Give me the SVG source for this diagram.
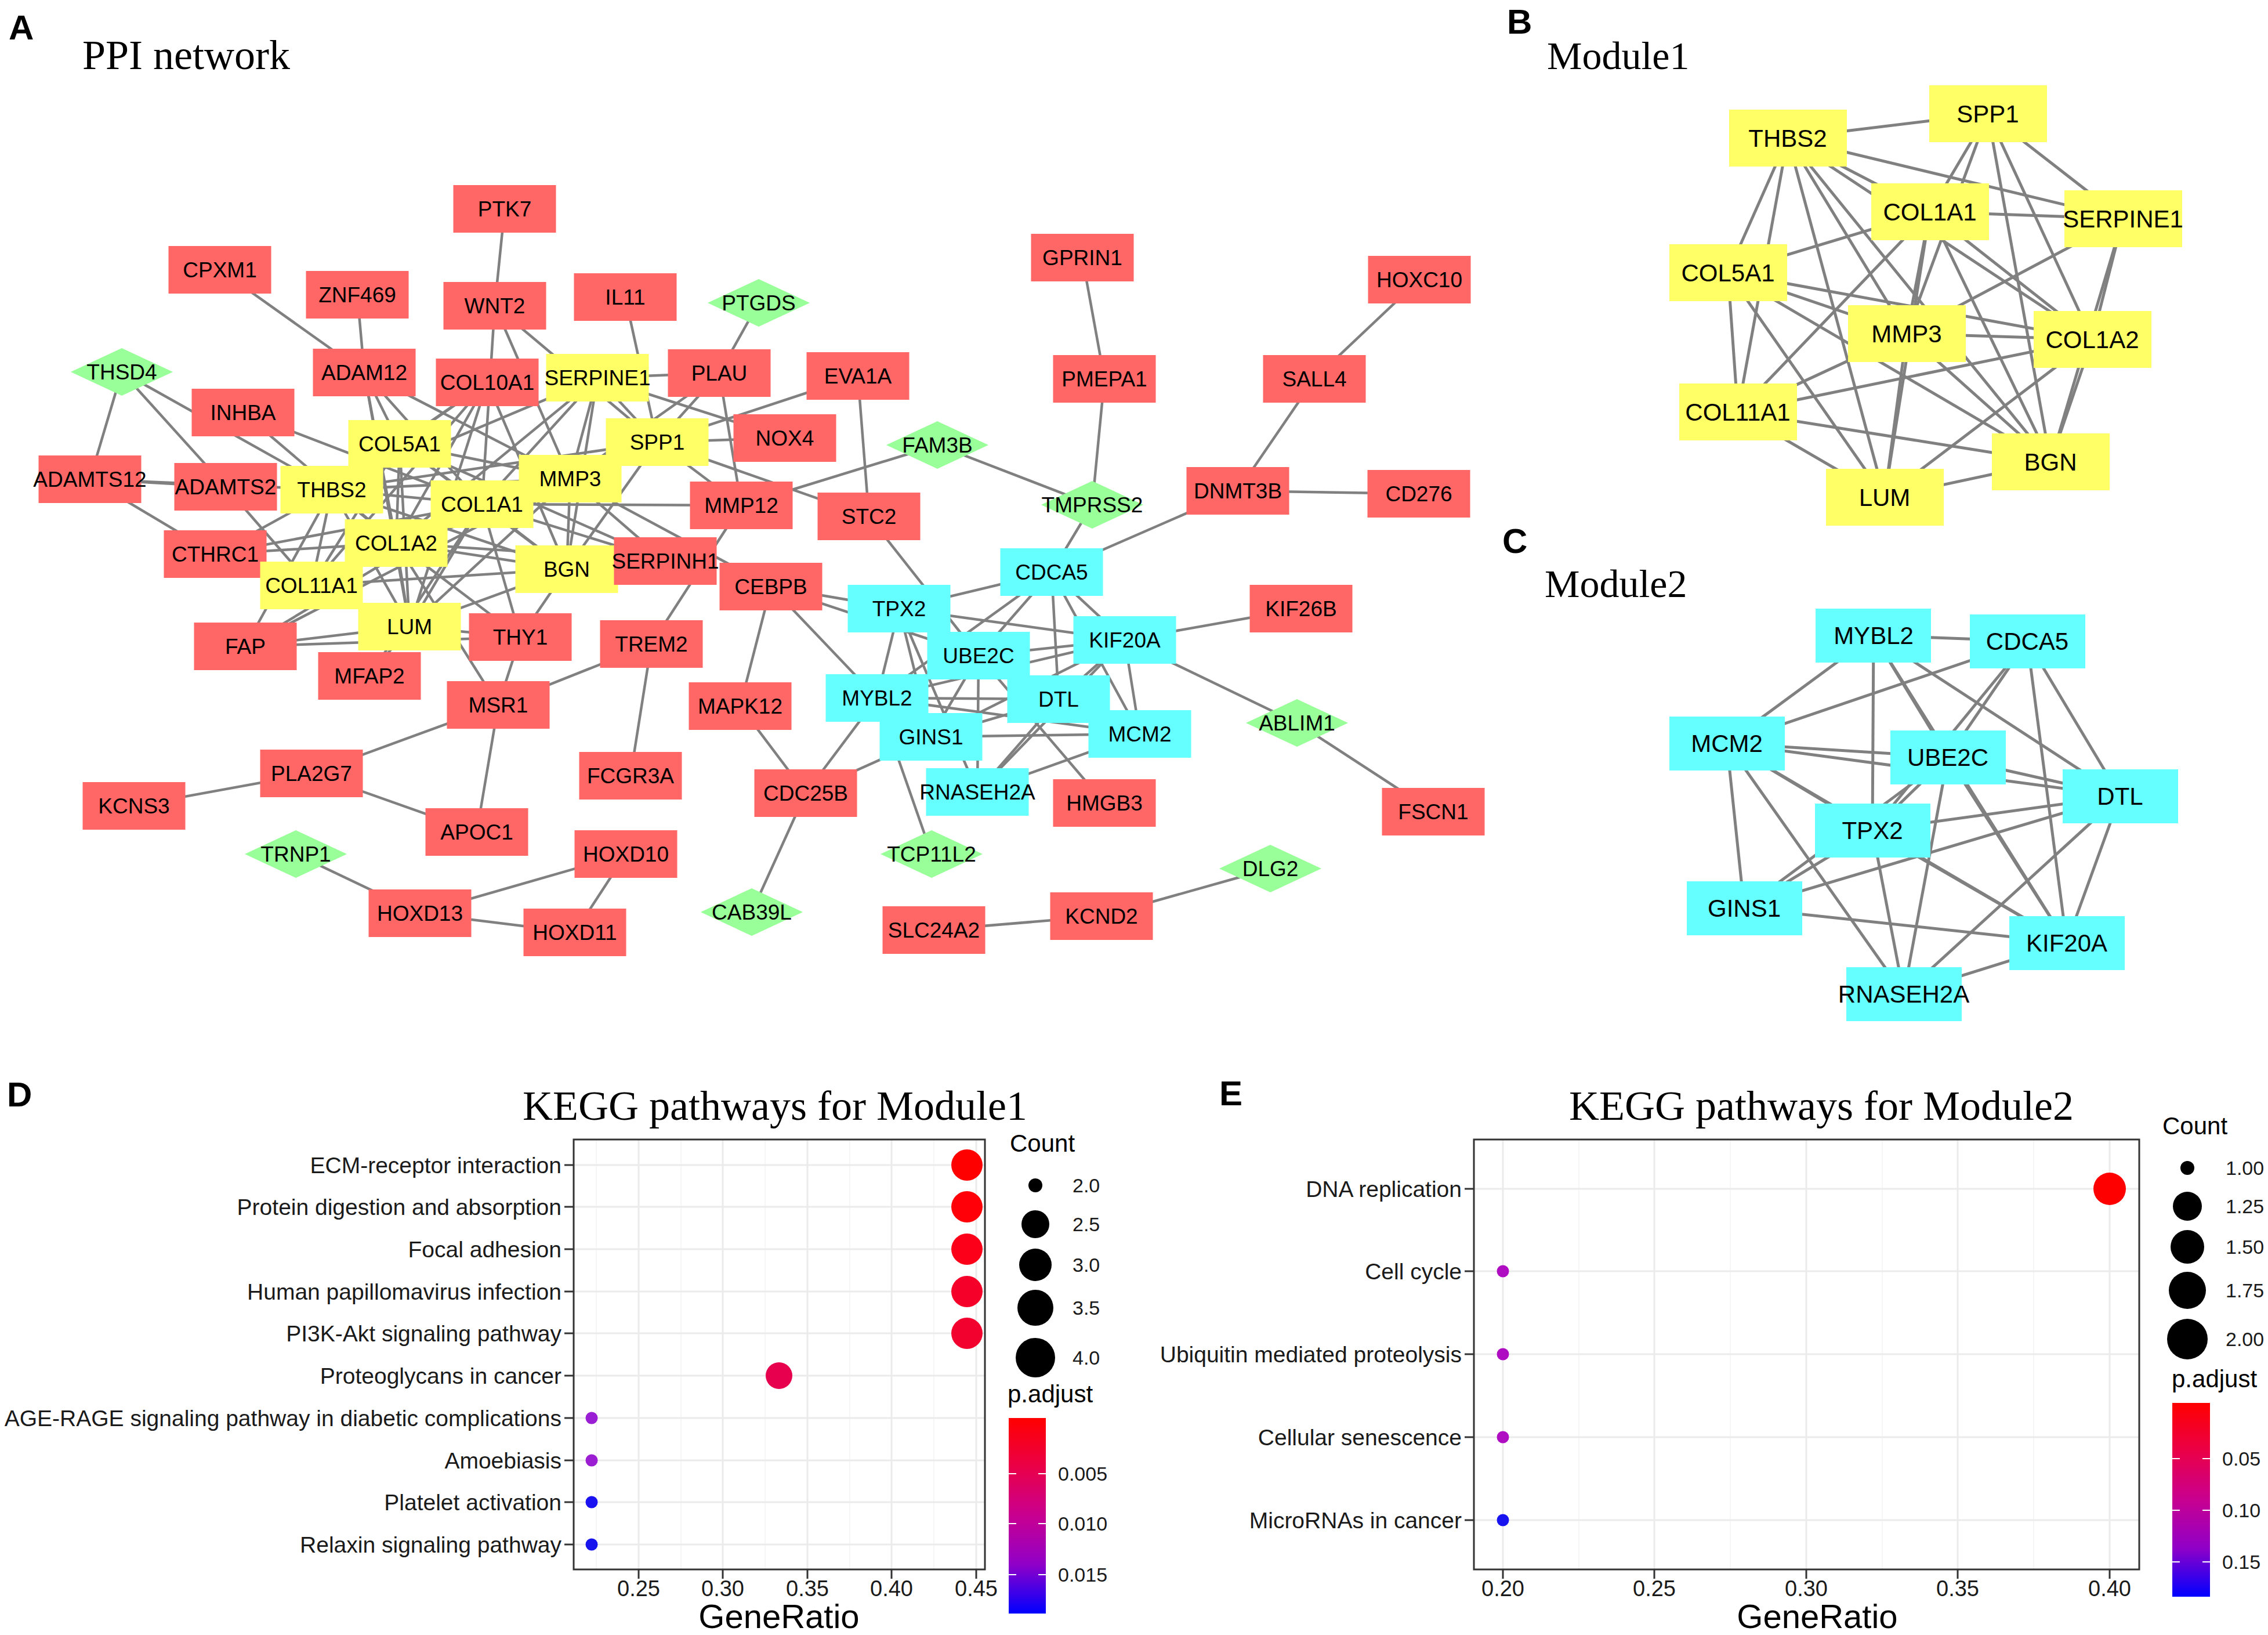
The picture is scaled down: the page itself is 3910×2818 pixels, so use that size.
<svg xmlns="http://www.w3.org/2000/svg" width="3910" height="2818" viewBox="0 0 3910 2818">
<defs>
<style>
.e{stroke:#808080;stroke-width:4.5;fill:none}
.em{stroke:#808080;stroke-width:5;fill:none}
.r{fill:#FF6666}.y{fill:#FFFF66}.c{fill:#66FFFF}.g{fill:#99FF99}
.t{font-family:"Liberation Sans",Arial,sans-serif;font-size:37px;text-anchor:middle;fill:#000}
.tm{font-family:"Liberation Sans",Arial,sans-serif;font-size:42px;text-anchor:middle;fill:#000}
.pl{font-family:"Liberation Sans",Arial,sans-serif;font-size:60px;font-weight:bold;fill:#000}
.ti{font-family:"Liberation Serif","Times New Roman",serif;fill:#000}
.ax{font-family:"Liberation Sans",Arial,sans-serif;font-size:39px;text-anchor:end;fill:#1a1a1a}
.tk{font-family:"Liberation Sans",Arial,sans-serif;font-size:38px;text-anchor:middle;fill:#1a1a1a}
.lt{font-family:"Liberation Sans",Arial,sans-serif;font-size:42px;fill:#000}
.ll{font-family:"Liberation Sans",Arial,sans-serif;font-size:34px;fill:#1a1a1a}
.gM{stroke:#EBEBEB;stroke-width:3}
.gm{stroke:#F3F3F3;stroke-width:1.5}
.tick{stroke:#333;stroke-width:3}
.wt{stroke:#fff;stroke-width:2}
</style>
<linearGradient id="pg" x1="0" y1="0" x2="0" y2="1">
<stop offset="0" stop-color="#FF0000"/>
<stop offset="0.25" stop-color="#EA0048"/>
<stop offset="0.5" stop-color="#C80090"/>
<stop offset="0.75" stop-color="#9000C8"/>
<stop offset="1" stop-color="#0000FF"/>
</linearGradient>
</defs>
<rect width="3910" height="2818" fill="#fff"/>

<text class="pl" x="15" y="68">A</text>
<text class="pl" x="2598" y="58">B</text>
<text class="pl" x="2590" y="953">C</text>
<text class="pl" x="12" y="1907">D</text>
<text class="pl" x="2102" y="1905">E</text>
<text class="ti" x="142" y="119" font-size="72">PPI network</text>
<text class="ti" x="2667" y="119" font-size="68">Module1</text>
<text class="ti" x="2663" y="1029" font-size="68">Module2</text>

<g id="ppi-edges">
<line class="e" x1="572" y1="844" x2="1133" y2="762"/>
<line class="e" x1="572" y1="844" x2="1030" y2="651"/>
<line class="e" x1="572" y1="844" x2="831" y2="869"/>
<line class="e" x1="572" y1="844" x2="689" y2="765"/>
<line class="e" x1="572" y1="844" x2="537" y2="1009"/>
<line class="e" x1="572" y1="844" x2="706" y2="1080"/>
<line class="e" x1="572" y1="844" x2="983" y2="825"/>
<line class="e" x1="572" y1="844" x2="977" y2="981"/>
<line class="e" x1="572" y1="844" x2="683" y2="936"/>
<line class="e" x1="1133" y1="762" x2="831" y2="869"/>
<line class="e" x1="1133" y1="762" x2="983" y2="825"/>
<line class="e" x1="1133" y1="762" x2="977" y2="981"/>
<line class="e" x1="1133" y1="762" x2="683" y2="936"/>
<line class="e" x1="1133" y1="762" x2="1030" y2="651"/>
<line class="e" x1="831" y1="869" x2="1030" y2="651"/>
<line class="e" x1="831" y1="869" x2="689" y2="765"/>
<line class="e" x1="831" y1="869" x2="537" y2="1009"/>
<line class="e" x1="831" y1="869" x2="983" y2="825"/>
<line class="e" x1="831" y1="869" x2="706" y2="1080"/>
<line class="e" x1="831" y1="869" x2="977" y2="981"/>
<line class="e" x1="831" y1="869" x2="683" y2="936"/>
<line class="e" x1="1030" y1="651" x2="983" y2="825"/>
<line class="e" x1="1030" y1="651" x2="683" y2="936"/>
<line class="e" x1="1030" y1="651" x2="977" y2="981"/>
<line class="e" x1="689" y1="765" x2="683" y2="936"/>
<line class="e" x1="689" y1="765" x2="983" y2="825"/>
<line class="e" x1="689" y1="765" x2="977" y2="981"/>
<line class="e" x1="689" y1="765" x2="537" y2="1009"/>
<line class="e" x1="689" y1="765" x2="706" y2="1080"/>
<line class="e" x1="983" y1="825" x2="683" y2="936"/>
<line class="e" x1="983" y1="825" x2="537" y2="1009"/>
<line class="e" x1="983" y1="825" x2="706" y2="1080"/>
<line class="e" x1="983" y1="825" x2="977" y2="981"/>
<line class="e" x1="683" y1="936" x2="537" y2="1009"/>
<line class="e" x1="683" y1="936" x2="706" y2="1080"/>
<line class="e" x1="683" y1="936" x2="977" y2="981"/>
<line class="e" x1="537" y1="1009" x2="977" y2="981"/>
<line class="e" x1="537" y1="1009" x2="706" y2="1080"/>
<line class="e" x1="977" y1="981" x2="706" y2="1080"/>
<line class="e" x1="1512" y1="1203" x2="1813" y2="986"/>
<line class="e" x1="1512" y1="1203" x2="1965" y2="1265"/>
<line class="e" x1="1512" y1="1203" x2="1550" y2="1049"/>
<line class="e" x1="1512" y1="1203" x2="1687" y2="1130"/>
<line class="e" x1="1512" y1="1203" x2="1825" y2="1205"/>
<line class="e" x1="1512" y1="1203" x2="1939" y2="1103"/>
<line class="e" x1="1813" y1="986" x2="1965" y2="1265"/>
<line class="e" x1="1813" y1="986" x2="1687" y2="1130"/>
<line class="e" x1="1813" y1="986" x2="1550" y2="1049"/>
<line class="e" x1="1813" y1="986" x2="1825" y2="1205"/>
<line class="e" x1="1813" y1="986" x2="1939" y2="1103"/>
<line class="e" x1="1965" y1="1265" x2="1687" y2="1130"/>
<line class="e" x1="1965" y1="1265" x2="1825" y2="1205"/>
<line class="e" x1="1965" y1="1265" x2="1550" y2="1049"/>
<line class="e" x1="1965" y1="1265" x2="1605" y2="1270"/>
<line class="e" x1="1965" y1="1265" x2="1685" y2="1365"/>
<line class="e" x1="1965" y1="1265" x2="1939" y2="1103"/>
<line class="e" x1="1687" y1="1130" x2="1825" y2="1205"/>
<line class="e" x1="1687" y1="1130" x2="1550" y2="1049"/>
<line class="e" x1="1687" y1="1130" x2="1939" y2="1103"/>
<line class="e" x1="1687" y1="1130" x2="1685" y2="1365"/>
<line class="e" x1="1687" y1="1130" x2="1605" y2="1270"/>
<line class="e" x1="1825" y1="1205" x2="1550" y2="1049"/>
<line class="e" x1="1825" y1="1205" x2="1605" y2="1270"/>
<line class="e" x1="1825" y1="1205" x2="1685" y2="1365"/>
<line class="e" x1="1825" y1="1205" x2="1939" y2="1103"/>
<line class="e" x1="1550" y1="1049" x2="1685" y2="1365"/>
<line class="e" x1="1550" y1="1049" x2="1939" y2="1103"/>
<line class="e" x1="1550" y1="1049" x2="1605" y2="1270"/>
<line class="e" x1="1605" y1="1270" x2="1939" y2="1103"/>
<line class="e" x1="1939" y1="1103" x2="1685" y2="1365"/>
<line class="e" x1="870" y1="360" x2="853" y2="527"/>
<line class="e" x1="379" y1="465" x2="628" y2="642"/>
<line class="e" x1="616" y1="508" x2="628" y2="642"/>
<line class="e" x1="210" y1="641" x2="155" y2="826"/>
<line class="e" x1="210" y1="641" x2="389" y2="839"/>
<line class="e" x1="210" y1="641" x2="572" y2="844"/>
<line class="e" x1="155" y1="826" x2="389" y2="839"/>
<line class="e" x1="155" y1="826" x2="572" y2="844"/>
<line class="e" x1="155" y1="826" x2="371" y2="955"/>
<line class="e" x1="419" y1="711" x2="683" y2="936"/>
<line class="e" x1="419" y1="711" x2="831" y2="869"/>
<line class="e" x1="389" y1="839" x2="537" y2="1009"/>
<line class="e" x1="628" y1="642" x2="689" y2="765"/>
<line class="e" x1="628" y1="642" x2="683" y2="936"/>
<line class="e" x1="628" y1="642" x2="706" y2="1080"/>
<line class="e" x1="628" y1="642" x2="831" y2="869"/>
<line class="e" x1="628" y1="642" x2="983" y2="825"/>
<line class="e" x1="853" y1="527" x2="831" y2="869"/>
<line class="e" x1="853" y1="527" x2="983" y2="825"/>
<line class="e" x1="853" y1="527" x2="1133" y2="762"/>
<line class="e" x1="1078" y1="512" x2="1133" y2="762"/>
<line class="e" x1="1308" y1="522" x2="1240" y2="643"/>
<line class="e" x1="1240" y1="643" x2="1030" y2="651"/>
<line class="e" x1="1240" y1="643" x2="1133" y2="762"/>
<line class="e" x1="1240" y1="643" x2="983" y2="825"/>
<line class="e" x1="1240" y1="643" x2="1278" y2="871"/>
<line class="e" x1="1030" y1="651" x2="1353" y2="755"/>
<line class="e" x1="1479" y1="648" x2="1133" y2="762"/>
<line class="e" x1="1479" y1="648" x2="1498" y2="890"/>
<line class="e" x1="1616" y1="767" x2="1278" y2="871"/>
<line class="e" x1="1616" y1="767" x2="1883" y2="870"/>
<line class="e" x1="1133" y1="762" x2="1353" y2="755"/>
<line class="e" x1="1133" y1="762" x2="1278" y2="871"/>
<line class="e" x1="1133" y1="762" x2="1498" y2="890"/>
<line class="e" x1="831" y1="869" x2="1278" y2="871"/>
<line class="e" x1="1866" y1="444" x2="1904" y2="653"/>
<line class="e" x1="1904" y1="653" x2="1883" y2="870"/>
<line class="e" x1="1883" y1="870" x2="1813" y2="986"/>
<line class="e" x1="2447" y1="482" x2="2266" y2="653"/>
<line class="e" x1="2266" y1="653" x2="2134" y2="846"/>
<line class="e" x1="2134" y1="846" x2="2446" y2="851"/>
<line class="e" x1="2134" y1="846" x2="1813" y2="986"/>
<line class="e" x1="1498" y1="890" x2="1687" y2="1130"/>
<line class="e" x1="1329" y1="1011" x2="1550" y2="1049"/>
<line class="e" x1="1329" y1="1011" x2="1687" y2="1130"/>
<line class="e" x1="1329" y1="1011" x2="1276" y2="1217"/>
<line class="e" x1="1329" y1="1011" x2="1512" y2="1203"/>
<line class="e" x1="983" y1="825" x2="1329" y2="1011"/>
<line class="e" x1="1278" y1="871" x2="1123" y2="1110"/>
<line class="e" x1="1123" y1="1110" x2="859" y2="1215"/>
<line class="e" x1="1123" y1="1110" x2="1087" y2="1337"/>
<line class="e" x1="1276" y1="1217" x2="1389" y2="1367"/>
<line class="e" x1="1389" y1="1367" x2="1512" y2="1203"/>
<line class="e" x1="1389" y1="1367" x2="1605" y2="1270"/>
<line class="e" x1="1389" y1="1367" x2="1296" y2="1572"/>
<line class="e" x1="1512" y1="1203" x2="1606" y2="1472"/>
<line class="e" x1="1079" y1="1472" x2="724" y2="1574"/>
<line class="e" x1="1079" y1="1472" x2="991" y2="1607"/>
<line class="e" x1="724" y1="1574" x2="991" y2="1607"/>
<line class="e" x1="510" y1="1472" x2="724" y2="1574"/>
<line class="e" x1="1610" y1="1603" x2="1899" y2="1579"/>
<line class="e" x1="1899" y1="1579" x2="2190" y2="1497"/>
<line class="e" x1="1939" y1="1103" x2="2243" y2="1049"/>
<line class="e" x1="1939" y1="1103" x2="2236" y2="1246"/>
<line class="e" x1="2236" y1="1246" x2="2471" y2="1399"/>
<line class="e" x1="1687" y1="1130" x2="1904" y2="1384"/>
<line class="e" x1="897" y1="1098" x2="683" y2="936"/>
<line class="e" x1="897" y1="1098" x2="831" y2="869"/>
<line class="e" x1="897" y1="1098" x2="977" y2="981"/>
<line class="e" x1="897" y1="1098" x2="706" y2="1080"/>
<line class="e" x1="897" y1="1098" x2="859" y2="1215"/>
<line class="e" x1="683" y1="936" x2="859" y2="1215"/>
<line class="e" x1="859" y1="1215" x2="537" y2="1333"/>
<line class="e" x1="859" y1="1215" x2="822" y2="1434"/>
<line class="e" x1="537" y1="1333" x2="822" y2="1434"/>
<line class="e" x1="537" y1="1333" x2="231" y2="1389"/>
<line class="e" x1="423" y1="1114" x2="572" y2="844"/>
<line class="e" x1="423" y1="1114" x2="983" y2="825"/>
<line class="e" x1="423" y1="1114" x2="831" y2="869"/>
<line class="e" x1="423" y1="1114" x2="706" y2="1080"/>
<line class="e" x1="423" y1="1114" x2="897" y2="1098"/>
<line class="e" x1="637" y1="1165" x2="706" y2="1080"/>
<line class="e" x1="637" y1="1165" x2="831" y2="869"/>
<line class="e" x1="371" y1="955" x2="831" y2="869"/>
<line class="e" x1="371" y1="955" x2="683" y2="936"/>
<line class="e" x1="572" y1="844" x2="371" y2="955"/>
<line class="e" x1="840" y1="659" x2="689" y2="765"/>
<line class="e" x1="840" y1="659" x2="537" y2="1009"/>
<line class="e" x1="840" y1="659" x2="683" y2="936"/>
<line class="e" x1="840" y1="659" x2="572" y2="844"/>
<line class="e" x1="840" y1="659" x2="977" y2="981"/>
<line class="e" x1="840" y1="659" x2="706" y2="1080"/>
<line class="e" x1="1147" y1="967" x2="831" y2="869"/>
<line class="e" x1="1147" y1="967" x2="683" y2="936"/>
<line class="e" x1="1147" y1="967" x2="689" y2="765"/>
<line class="e" x1="1147" y1="967" x2="983" y2="825"/>
</g>

<g id="ppi-nodes">
<g id="n-PTK7"><rect class="r" x="781.5" y="319" width="177" height="82"/><text class="t" x="870" y="373">PTK7</text></g>
<g id="n-CPXM1"><rect class="r" x="290.5" y="424" width="177" height="82"/><text class="t" x="379" y="478">CPXM1</text></g>
<g id="n-ZNF469"><rect class="r" x="527.5" y="467" width="177" height="82"/><text class="t" x="616" y="521">ZNF469</text></g>
<g id="n-WNT2"><rect class="r" x="764.5" y="486" width="177" height="82"/><text class="t" x="853" y="540">WNT2</text></g>
<g id="n-IL11"><rect class="r" x="989.5" y="471" width="177" height="82"/><text class="t" x="1078" y="525">IL11</text></g>
<g id="n-GPRIN1"><rect class="r" x="1777.5" y="403" width="177" height="82"/><text class="t" x="1866" y="457">GPRIN1</text></g>
<g id="n-HOXC10"><rect class="r" x="2358.5" y="441" width="177" height="82"/><text class="t" x="2447" y="495">HOXC10</text></g>
<g id="n-ADAM12"><rect class="r" x="539.5" y="601" width="177" height="82"/><text class="t" x="628" y="655">ADAM12</text></g>
<g id="n-COL10A1"><rect class="r" x="751.5" y="618" width="177" height="82"/><text class="t" x="840" y="672">COL10A1</text></g>
<g id="n-PLAU"><rect class="r" x="1151.5" y="602" width="177" height="82"/><text class="t" x="1240" y="656">PLAU</text></g>
<g id="n-EVA1A"><rect class="r" x="1390.5" y="607" width="177" height="82"/><text class="t" x="1479" y="661">EVA1A</text></g>
<g id="n-PMEPA1"><rect class="r" x="1815.5" y="612" width="177" height="82"/><text class="t" x="1904" y="666">PMEPA1</text></g>
<g id="n-SALL4"><rect class="r" x="2177.5" y="612" width="177" height="82"/><text class="t" x="2266" y="666">SALL4</text></g>
<g id="n-INHBA"><rect class="r" x="330.5" y="670" width="177" height="82"/><text class="t" x="419" y="724">INHBA</text></g>
<g id="n-NOX4"><rect class="r" x="1264.5" y="714" width="177" height="82"/><text class="t" x="1353" y="768">NOX4</text></g>
<g id="n-ADAMTS12"><rect class="r" x="66.5" y="785" width="177" height="82"/><text class="t" x="155" y="839">ADAMTS12</text></g>
<g id="n-ADAMTS2"><rect class="r" x="300.5" y="798" width="177" height="82"/><text class="t" x="389" y="852">ADAMTS2</text></g>
<g id="n-MMP12"><rect class="r" x="1189.5" y="830" width="177" height="82"/><text class="t" x="1278" y="884">MMP12</text></g>
<g id="n-STC2"><rect class="r" x="1409.5" y="849" width="177" height="82"/><text class="t" x="1498" y="903">STC2</text></g>
<g id="n-DNMT3B"><rect class="r" x="2045.5" y="805" width="177" height="82"/><text class="t" x="2134" y="859">DNMT3B</text></g>
<g id="n-CD276"><rect class="r" x="2357.5" y="810" width="177" height="82"/><text class="t" x="2446" y="864">CD276</text></g>
<g id="n-CTHRC1"><rect class="r" x="282.5" y="914" width="177" height="82"/><text class="t" x="371" y="968">CTHRC1</text></g>
<g id="n-CEBPB"><rect class="r" x="1240.5" y="970" width="177" height="82"/><text class="t" x="1329" y="1024">CEBPB</text></g>
<g id="n-KIF26B"><rect class="r" x="2154.5" y="1008" width="177" height="82"/><text class="t" x="2243" y="1062">KIF26B</text></g>
<g id="n-FAP"><rect class="r" x="334.5" y="1073" width="177" height="82"/><text class="t" x="423" y="1127">FAP</text></g>
<g id="n-THY1"><rect class="r" x="808.5" y="1057" width="177" height="82"/><text class="t" x="897" y="1111">THY1</text></g>
<g id="n-TREM2"><rect class="r" x="1034.5" y="1069" width="177" height="82"/><text class="t" x="1123" y="1123">TREM2</text></g>
<g id="n-MFAP2"><rect class="r" x="548.5" y="1124" width="177" height="82"/><text class="t" x="637" y="1178">MFAP2</text></g>
<g id="n-MSR1"><rect class="r" x="770.5" y="1174" width="177" height="82"/><text class="t" x="859" y="1228">MSR1</text></g>
<g id="n-MAPK12"><rect class="r" x="1187.5" y="1176" width="177" height="82"/><text class="t" x="1276" y="1230">MAPK12</text></g>
<g id="n-PLA2G7"><rect class="r" x="448.5" y="1292" width="177" height="82"/><text class="t" x="537" y="1346">PLA2G7</text></g>
<g id="n-KCNS3"><rect class="r" x="142.5" y="1348" width="177" height="82"/><text class="t" x="231" y="1402">KCNS3</text></g>
<g id="n-FCGR3A"><rect class="r" x="998.5" y="1296" width="177" height="82"/><text class="t" x="1087" y="1350">FCGR3A</text></g>
<g id="n-CDC25B"><rect class="r" x="1300.5" y="1326" width="177" height="82"/><text class="t" x="1389" y="1380">CDC25B</text></g>
<g id="n-HMGB3"><rect class="r" x="1815.5" y="1343" width="177" height="82"/><text class="t" x="1904" y="1397">HMGB3</text></g>
<g id="n-FSCN1"><rect class="r" x="2382.5" y="1358" width="177" height="82"/><text class="t" x="2471" y="1412">FSCN1</text></g>
<g id="n-APOC1"><rect class="r" x="733.5" y="1393" width="177" height="82"/><text class="t" x="822" y="1447">APOC1</text></g>
<g id="n-HOXD10"><rect class="r" x="990.5" y="1431" width="177" height="82"/><text class="t" x="1079" y="1485">HOXD10</text></g>
<g id="n-HOXD13"><rect class="r" x="635.5" y="1533" width="177" height="82"/><text class="t" x="724" y="1587">HOXD13</text></g>
<g id="n-HOXD11"><rect class="r" x="902.5" y="1566" width="177" height="82"/><text class="t" x="991" y="1620">HOXD11</text></g>
<g id="n-SLC24A2"><rect class="r" x="1521.5" y="1562" width="177" height="82"/><text class="t" x="1610" y="1616">SLC24A2</text></g>
<g id="n-KCND2"><rect class="r" x="1810.5" y="1538" width="177" height="82"/><text class="t" x="1899" y="1592">KCND2</text></g>
<g id="n-COL5A1"><rect class="y" x="600.5" y="724" width="177" height="82"/><text class="t" x="689" y="778">COL5A1</text></g>
<g id="n-THBS2"><rect class="y" x="483.5" y="803" width="177" height="82"/><text class="t" x="572" y="857">THBS2</text></g>
<g id="n-SERPINE1"><rect class="y" x="941.5" y="610" width="177" height="82"/><text class="t" x="1030" y="664">SERPINE1</text></g>
<g id="n-SPP1"><rect class="y" x="1044.5" y="721" width="177" height="82"/><text class="t" x="1133" y="775">SPP1</text></g>
<g id="n-MMP3"><rect class="y" x="894.5" y="784" width="177" height="82"/><text class="t" x="983" y="838">MMP3</text></g>
<g id="n-COL1A1"><rect class="y" x="742.5" y="828" width="177" height="82"/><text class="t" x="831" y="882">COL1A1</text></g>
<g id="n-COL1A2"><rect class="y" x="594.5" y="895" width="177" height="82"/><text class="t" x="683" y="949">COL1A2</text></g>
<g id="n-COL11A1"><rect class="y" x="448.5" y="968" width="177" height="82"/><text class="t" x="537" y="1022">COL11A1</text></g>
<g id="n-BGN"><rect class="y" x="888.5" y="940" width="177" height="82"/><text class="t" x="977" y="994">BGN</text></g>
<g id="n-SERPINH1"><rect class="r" x="1058.5" y="926" width="177" height="82"/><text class="t" x="1147" y="980">SERPINH1</text></g>
<g id="n-LUM"><rect class="y" x="617.5" y="1039" width="177" height="82"/><text class="t" x="706" y="1093">LUM</text></g>
<g id="n-CDCA5"><rect class="c" x="1724.5" y="945" width="177" height="82"/><text class="t" x="1813" y="999">CDCA5</text></g>
<g id="n-TPX2"><rect class="c" x="1461.5" y="1008" width="177" height="82"/><text class="t" x="1550" y="1062">TPX2</text></g>
<g id="n-KIF20A"><rect class="c" x="1850.5" y="1062" width="177" height="82"/><text class="t" x="1939" y="1116">KIF20A</text></g>
<g id="n-UBE2C"><rect class="c" x="1598.5" y="1089" width="177" height="82"/><text class="t" x="1687" y="1143">UBE2C</text></g>
<g id="n-MYBL2"><rect class="c" x="1423.5" y="1162" width="177" height="82"/><text class="t" x="1512" y="1216">MYBL2</text></g>
<g id="n-DTL"><rect class="c" x="1736.5" y="1164" width="177" height="82"/><text class="t" x="1825" y="1218">DTL</text></g>
<g id="n-MCM2"><rect class="c" x="1876.5" y="1224" width="177" height="82"/><text class="t" x="1965" y="1278">MCM2</text></g>
<g id="n-GINS1"><rect class="c" x="1516.5" y="1229" width="177" height="82"/><text class="t" x="1605" y="1283">GINS1</text></g>
<g id="n-RNASEH2A"><rect class="c" x="1596.5" y="1324" width="177" height="82"/><text class="t" x="1685" y="1378">RNASEH2A</text></g>
<g id="n-THSD4"><polygon class="g" points="122,641 210,600 298,641 210,682"/><text class="t" x="210" y="654">THSD4</text></g>
<g id="n-PTGDS"><polygon class="g" points="1220,522 1308,481 1396,522 1308,563"/><text class="t" x="1308" y="535">PTGDS</text></g>
<g id="n-FAM3B"><polygon class="g" points="1528,767 1616,726 1704,767 1616,808"/><text class="t" x="1616" y="780">FAM3B</text></g>
<g id="n-TMPRSS2"><polygon class="g" points="1795,870 1883,829 1971,870 1883,911"/><text class="t" x="1883" y="883">TMPRSS2</text></g>
<g id="n-ABLIM1"><polygon class="g" points="2148,1246 2236,1205 2324,1246 2236,1287"/><text class="t" x="2236" y="1259">ABLIM1</text></g>
<g id="n-TRNP1"><polygon class="g" points="422,1472 510,1431 598,1472 510,1513"/><text class="t" x="510" y="1485">TRNP1</text></g>
<g id="n-TCP11L2"><polygon class="g" points="1518,1472 1606,1431 1694,1472 1606,1513"/><text class="t" x="1606" y="1485">TCP11L2</text></g>
<g id="n-CAB39L"><polygon class="g" points="1208,1572 1296,1531 1384,1572 1296,1613"/><text class="t" x="1296" y="1585">CAB39L</text></g>
<g id="n-DLG2"><polygon class="g" points="2102,1497 2190,1456 2278,1497 2190,1538"/><text class="t" x="2190" y="1510">DLG2</text></g>
</g>

<g id="m1-edges">
<line class="em" x1="3082" y1="238" x2="3427" y2="196"/>
<line class="em" x1="3082" y1="238" x2="3660" y2="377"/>
<line class="em" x1="3082" y1="238" x2="3327" y2="365"/>
<line class="em" x1="3082" y1="238" x2="2979" y2="470"/>
<line class="em" x1="3082" y1="238" x2="2996" y2="710"/>
<line class="em" x1="3082" y1="238" x2="3249" y2="857"/>
<line class="em" x1="3082" y1="238" x2="3287" y2="575"/>
<line class="em" x1="3082" y1="238" x2="3535" y2="796"/>
<line class="em" x1="3082" y1="238" x2="3607" y2="585"/>
<line class="em" x1="3427" y1="196" x2="3327" y2="365"/>
<line class="em" x1="3427" y1="196" x2="3287" y2="575"/>
<line class="em" x1="3427" y1="196" x2="3535" y2="796"/>
<line class="em" x1="3427" y1="196" x2="3607" y2="585"/>
<line class="em" x1="3427" y1="196" x2="3660" y2="377"/>
<line class="em" x1="3327" y1="365" x2="3660" y2="377"/>
<line class="em" x1="3327" y1="365" x2="2979" y2="470"/>
<line class="em" x1="3327" y1="365" x2="2996" y2="710"/>
<line class="em" x1="3327" y1="365" x2="3287" y2="575"/>
<line class="em" x1="3327" y1="365" x2="3249" y2="857"/>
<line class="em" x1="3327" y1="365" x2="3535" y2="796"/>
<line class="em" x1="3327" y1="365" x2="3607" y2="585"/>
<line class="em" x1="3660" y1="377" x2="3287" y2="575"/>
<line class="em" x1="3660" y1="377" x2="3607" y2="585"/>
<line class="em" x1="3660" y1="377" x2="3535" y2="796"/>
<line class="em" x1="2979" y1="470" x2="3607" y2="585"/>
<line class="em" x1="2979" y1="470" x2="3287" y2="575"/>
<line class="em" x1="2979" y1="470" x2="3535" y2="796"/>
<line class="em" x1="2979" y1="470" x2="2996" y2="710"/>
<line class="em" x1="2979" y1="470" x2="3249" y2="857"/>
<line class="em" x1="3287" y1="575" x2="3607" y2="585"/>
<line class="em" x1="3287" y1="575" x2="2996" y2="710"/>
<line class="em" x1="3287" y1="575" x2="3249" y2="857"/>
<line class="em" x1="3287" y1="575" x2="3535" y2="796"/>
<line class="em" x1="3607" y1="585" x2="2996" y2="710"/>
<line class="em" x1="3607" y1="585" x2="3249" y2="857"/>
<line class="em" x1="3607" y1="585" x2="3535" y2="796"/>
<line class="em" x1="2996" y1="710" x2="3535" y2="796"/>
<line class="em" x1="2996" y1="710" x2="3249" y2="857"/>
<line class="em" x1="3535" y1="796" x2="3249" y2="857"/>
</g>
<g id="m1-nodes">
<g id="m1-THBS2"><rect class="y" x="2981" y="189" width="203" height="98"/><text class="tm" x="3082" y="253">THBS2</text></g>
<g id="m1-SPP1"><rect class="y" x="3326" y="147" width="203" height="98"/><text class="tm" x="3427" y="211">SPP1</text></g>
<g id="m1-COL1A1"><rect class="y" x="3226" y="316" width="203" height="98"/><text class="tm" x="3327" y="380">COL1A1</text></g>
<g id="m1-SERPINE1"><rect class="y" x="3559" y="328" width="203" height="98"/><text class="tm" x="3660" y="392">SERPINE1</text></g>
<g id="m1-COL5A1"><rect class="y" x="2878" y="421" width="203" height="98"/><text class="tm" x="2979" y="485">COL5A1</text></g>
<g id="m1-MMP3"><rect class="y" x="3186" y="526" width="203" height="98"/><text class="tm" x="3287" y="590">MMP3</text></g>
<g id="m1-COL1A2"><rect class="y" x="3506" y="536" width="203" height="98"/><text class="tm" x="3607" y="600">COL1A2</text></g>
<g id="m1-COL11A1"><rect class="y" x="2895" y="661" width="203" height="98"/><text class="tm" x="2996" y="725">COL11A1</text></g>
<g id="m1-BGN"><rect class="y" x="3434" y="747" width="203" height="98"/><text class="tm" x="3535" y="811">BGN</text></g>
<g id="m1-LUM"><rect class="y" x="3148" y="808" width="203" height="98"/><text class="tm" x="3249" y="872">LUM</text></g>
</g>

<g id="m2-edges">
<line class="em" x1="3230" y1="1095" x2="3495" y2="1105"/>
<line class="em" x1="3230" y1="1095" x2="2977" y2="1281"/>
<line class="em" x1="3230" y1="1095" x2="3228" y2="1431"/>
<line class="em" x1="3230" y1="1095" x2="3358" y2="1305"/>
<line class="em" x1="3230" y1="1095" x2="3655" y2="1372"/>
<line class="em" x1="3230" y1="1095" x2="3563" y2="1625"/>
<line class="em" x1="3495" y1="1105" x2="2977" y2="1281"/>
<line class="em" x1="3495" y1="1105" x2="3358" y2="1305"/>
<line class="em" x1="3495" y1="1105" x2="3228" y2="1431"/>
<line class="em" x1="3495" y1="1105" x2="3655" y2="1372"/>
<line class="em" x1="3495" y1="1105" x2="3563" y2="1625"/>
<line class="em" x1="2977" y1="1281" x2="3358" y2="1305"/>
<line class="em" x1="2977" y1="1281" x2="3655" y2="1372"/>
<line class="em" x1="2977" y1="1281" x2="3228" y2="1431"/>
<line class="em" x1="2977" y1="1281" x2="3007" y2="1565"/>
<line class="em" x1="2977" y1="1281" x2="3282" y2="1713"/>
<line class="em" x1="2977" y1="1281" x2="3563" y2="1625"/>
<line class="em" x1="3358" y1="1305" x2="3655" y2="1372"/>
<line class="em" x1="3358" y1="1305" x2="3228" y2="1431"/>
<line class="em" x1="3358" y1="1305" x2="3563" y2="1625"/>
<line class="em" x1="3358" y1="1305" x2="3282" y2="1713"/>
<line class="em" x1="3358" y1="1305" x2="3007" y2="1565"/>
<line class="em" x1="3655" y1="1372" x2="3228" y2="1431"/>
<line class="em" x1="3655" y1="1372" x2="3007" y2="1565"/>
<line class="em" x1="3655" y1="1372" x2="3282" y2="1713"/>
<line class="em" x1="3655" y1="1372" x2="3563" y2="1625"/>
<line class="em" x1="3228" y1="1431" x2="3282" y2="1713"/>
<line class="em" x1="3228" y1="1431" x2="3563" y2="1625"/>
<line class="em" x1="3228" y1="1431" x2="3007" y2="1565"/>
<line class="em" x1="3007" y1="1565" x2="3563" y2="1625"/>
<line class="em" x1="3563" y1="1625" x2="3282" y2="1713"/>
</g>
<g id="m2-nodes">
<g id="m2-MYBL2"><rect class="c" x="3130" y="1049" width="199" height="93"/><text class="tm" x="3230" y="1110">MYBL2</text></g>
<g id="m2-CDCA5"><rect class="c" x="3396" y="1059" width="199" height="93"/><text class="tm" x="3495" y="1120">CDCA5</text></g>
<g id="m2-MCM2"><rect class="c" x="2878" y="1235" width="199" height="93"/><text class="tm" x="2977" y="1296">MCM2</text></g>
<g id="m2-UBE2C"><rect class="c" x="3259" y="1259" width="199" height="93"/><text class="tm" x="3358" y="1320">UBE2C</text></g>
<g id="m2-DTL"><rect class="c" x="3556" y="1326" width="199" height="93"/><text class="tm" x="3655" y="1387">DTL</text></g>
<g id="m2-TPX2"><rect class="c" x="3129" y="1385" width="199" height="93"/><text class="tm" x="3228" y="1446">TPX2</text></g>
<g id="m2-GINS1"><rect class="c" x="2908" y="1519" width="199" height="93"/><text class="tm" x="3007" y="1580">GINS1</text></g>
<g id="m2-KIF20A"><rect class="c" x="3464" y="1579" width="199" height="93"/><text class="tm" x="3563" y="1640">KIF20A</text></g>
<g id="m2-RNASEH2A"><rect class="c" x="3183" y="1667" width="199" height="93"/><text class="tm" x="3282" y="1728">RNASEH2A</text></g>
</g>

<g id="kegg1">
<text class="ti" x="1336" y="1930" font-size="72" text-anchor="middle">KEGG pathways for Module1</text>
<rect x="989" y="1964" width="709" height="741" fill="#fff"/>
<g class="gm">
<line x1="1028" y1="1964" x2="1028" y2="2705"/><line x1="1174" y1="1964" x2="1174" y2="2705"/><line x1="1319" y1="1964" x2="1319" y2="2705"/><line x1="1465" y1="1964" x2="1465" y2="2705"/><line x1="1610" y1="1964" x2="1610" y2="2705"/>
</g>
<g class="gM">
<line x1="1101" y1="1964" x2="1101" y2="2705"/><line x1="1246" y1="1964" x2="1246" y2="2705"/><line x1="1392" y1="1964" x2="1392" y2="2705"/><line x1="1537" y1="1964" x2="1537" y2="2705"/><line x1="1683" y1="1964" x2="1683" y2="2705"/>
<line x1="989" y1="2008" x2="1698" y2="2008"/><line x1="989" y1="2080" x2="1698" y2="2080"/><line x1="989" y1="2153" x2="1698" y2="2153"/><line x1="989" y1="2226" x2="1698" y2="2226"/><line x1="989" y1="2298" x2="1698" y2="2298"/><line x1="989" y1="2371" x2="1698" y2="2371"/><line x1="989" y1="2444" x2="1698" y2="2444"/><line x1="989" y1="2517" x2="1698" y2="2517"/><line x1="989" y1="2589" x2="1698" y2="2589"/><line x1="989" y1="2662" x2="1698" y2="2662"/>
</g>
<circle cx="1667" cy="2008" r="27" fill="#FF0000"/>
<circle cx="1667" cy="2080" r="27" fill="#FF0008"/>
<circle cx="1667" cy="2153" r="27" fill="#FB0018"/>
<circle cx="1667" cy="2226" r="27" fill="#F50028"/>
<circle cx="1667" cy="2298" r="27" fill="#F2002E"/>
<circle cx="1343" cy="2371" r="23" fill="#E6004E"/>
<circle cx="1020" cy="2444" r="10.5" fill="#9A1FD4"/>
<circle cx="1020" cy="2517" r="10.5" fill="#9C1ED2"/>
<circle cx="1020" cy="2589" r="10.5" fill="#1A12F0"/>
<circle cx="1020" cy="2662" r="10.5" fill="#1814EE"/>
<rect x="989" y="1964" width="709" height="741" fill="none" stroke="#333" stroke-width="3"/>
<g class="tick">
<line x1="973" y1="2008" x2="989" y2="2008"/><line x1="973" y1="2080" x2="989" y2="2080"/><line x1="973" y1="2153" x2="989" y2="2153"/><line x1="973" y1="2226" x2="989" y2="2226"/><line x1="973" y1="2298" x2="989" y2="2298"/><line x1="973" y1="2371" x2="989" y2="2371"/><line x1="973" y1="2444" x2="989" y2="2444"/><line x1="973" y1="2517" x2="989" y2="2517"/><line x1="973" y1="2589" x2="989" y2="2589"/><line x1="973" y1="2662" x2="989" y2="2662"/>
<line x1="1101" y1="2705" x2="1101" y2="2721"/><line x1="1246" y1="2705" x2="1246" y2="2721"/><line x1="1392" y1="2705" x2="1392" y2="2721"/><line x1="1537" y1="2705" x2="1537" y2="2721"/><line x1="1683" y1="2705" x2="1683" y2="2721"/>
</g>
<text class="ax" x="968" y="2022">ECM-receptor interaction</text>
<text class="ax" x="968" y="2094">Protein digestion and absorption</text>
<text class="ax" x="968" y="2167">Focal adhesion</text>
<text class="ax" x="968" y="2240">Human papillomavirus infection</text>
<text class="ax" x="968" y="2312">PI3K-Akt signaling pathway</text>
<text class="ax" x="968" y="2385">Proteoglycans in cancer</text>
<text class="ax" x="968" y="2458">AGE-RAGE signaling pathway in diabetic complications</text>
<text class="ax" x="968" y="2531">Amoebiasis</text>
<text class="ax" x="968" y="2603">Platelet activation</text>
<text class="ax" x="968" y="2676">Relaxin signaling pathway</text>
<text class="tk" x="1101" y="2751">0.25</text>
<text class="tk" x="1246" y="2751">0.30</text>
<text class="tk" x="1392" y="2751">0.35</text>
<text class="tk" x="1537" y="2751">0.40</text>
<text class="tk" x="1683" y="2751">0.45</text>
<text x="1343" y="2806" font-family="Liberation Sans, Arial, sans-serif" font-size="58" text-anchor="middle">GeneRatio</text>
<text class="lt" x="1741" y="1985">Count</text>
<circle cx="1785" cy="2043" r="12" fill="#000"/>
<circle cx="1785" cy="2110" r="24" fill="#000"/>
<circle cx="1785" cy="2180" r="28" fill="#000"/>
<circle cx="1785" cy="2254" r="31" fill="#000"/>
<circle cx="1785" cy="2340" r="34" fill="#000"/>
<text class="ll" x="1849" y="2055">2.0</text>
<text class="ll" x="1849" y="2122">2.5</text>
<text class="ll" x="1849" y="2192">3.0</text>
<text class="ll" x="1849" y="2266">3.5</text>
<text class="ll" x="1849" y="2352">4.0</text>
<text class="lt" x="1737" y="2417">p.adjust</text>
<rect x="1739" y="2444" width="64" height="337" fill="url(#pg)"/>
<g class="wt">
<line x1="1739" y1="2540" x2="1752" y2="2540"/><line x1="1790" y1="2540" x2="1803" y2="2540"/>
<line x1="1739" y1="2626" x2="1752" y2="2626"/><line x1="1790" y1="2626" x2="1803" y2="2626"/>
<line x1="1739" y1="2714" x2="1752" y2="2714"/><line x1="1790" y1="2714" x2="1803" y2="2714"/>
</g>
<text class="ll" x="1824" y="2552">0.005</text>
<text class="ll" x="1824" y="2638">0.010</text>
<text class="ll" x="1824" y="2726">0.015</text>
</g>

<g id="kegg2">
<text class="ti" x="3140" y="1930" font-size="72" text-anchor="middle">KEGG pathways for Module2</text>
<rect x="2541" y="1964" width="1147" height="741" fill="#fff"/>
<g class="gm">
<line x1="2722" y1="1964" x2="2722" y2="2705"/><line x1="2983" y1="1964" x2="2983" y2="2705"/><line x1="3245" y1="1964" x2="3245" y2="2705"/><line x1="3506" y1="1964" x2="3506" y2="2705"/>
</g>
<g class="gM">
<line x1="2591" y1="1964" x2="2591" y2="2705"/><line x1="2852" y1="1964" x2="2852" y2="2705"/><line x1="3114" y1="1964" x2="3114" y2="2705"/><line x1="3375" y1="1964" x2="3375" y2="2705"/><line x1="3637" y1="1964" x2="3637" y2="2705"/>
<line x1="2541" y1="2049" x2="3688" y2="2049"/><line x1="2541" y1="2191" x2="3688" y2="2191"/><line x1="2541" y1="2334" x2="3688" y2="2334"/><line x1="2541" y1="2477" x2="3688" y2="2477"/><line x1="2541" y1="2620" x2="3688" y2="2620"/>
</g>
<circle cx="3637" cy="2049" r="28" fill="#FF0000"/>
<circle cx="2591" cy="2191" r="10.5" fill="#AE0DC2"/>
<circle cx="2591" cy="2334" r="10.5" fill="#AE0DC2"/>
<circle cx="2591" cy="2477" r="10.5" fill="#AE0DC2"/>
<circle cx="2591" cy="2620" r="10.5" fill="#1814F0"/>
<rect x="2541" y="1964" width="1147" height="741" fill="none" stroke="#333" stroke-width="3"/>
<g class="tick">
<line x1="2525" y1="2049" x2="2541" y2="2049"/><line x1="2525" y1="2191" x2="2541" y2="2191"/><line x1="2525" y1="2334" x2="2541" y2="2334"/><line x1="2525" y1="2477" x2="2541" y2="2477"/><line x1="2525" y1="2620" x2="2541" y2="2620"/>
<line x1="2591" y1="2705" x2="2591" y2="2721"/><line x1="2852" y1="2705" x2="2852" y2="2721"/><line x1="3114" y1="2705" x2="3114" y2="2721"/><line x1="3375" y1="2705" x2="3375" y2="2721"/><line x1="3637" y1="2705" x2="3637" y2="2721"/>
</g>
<text class="ax" x="2520" y="2063">DNA replication</text>
<text class="ax" x="2520" y="2205">Cell cycle</text>
<text class="ax" x="2520" y="2348">Ubiquitin mediated proteolysis</text>
<text class="ax" x="2520" y="2491">Cellular senescence</text>
<text class="ax" x="2520" y="2634">MicroRNAs in cancer</text>
<text class="tk" x="2591" y="2751">0.20</text>
<text class="tk" x="2852" y="2751">0.25</text>
<text class="tk" x="3114" y="2751">0.30</text>
<text class="tk" x="3375" y="2751">0.35</text>
<text class="tk" x="3637" y="2751">0.40</text>
<text x="3133" y="2806" font-family="Liberation Sans, Arial, sans-serif" font-size="58" text-anchor="middle">GeneRatio</text>
<text class="lt" x="3728" y="1955">Count</text>
<circle cx="3771" cy="2013" r="12" fill="#000"/>
<circle cx="3771" cy="2079" r="25" fill="#000"/>
<circle cx="3771" cy="2149" r="29" fill="#000"/>
<circle cx="3771" cy="2224" r="32" fill="#000"/>
<circle cx="3771" cy="2308" r="35" fill="#000"/>
<text class="ll" x="3837" y="2025">1.00</text>
<text class="ll" x="3837" y="2091">1.25</text>
<text class="ll" x="3837" y="2161">1.50</text>
<text class="ll" x="3837" y="2236">1.75</text>
<text class="ll" x="3837" y="2320">2.00</text>
<text class="lt" x="3744" y="2391">p.adjust</text>
<rect x="3745" y="2418" width="65" height="334" fill="url(#pg)"/>
<g class="wt">
<line x1="3745" y1="2514" x2="3758" y2="2514"/><line x1="3797" y1="2514" x2="3810" y2="2514"/>
<line x1="3745" y1="2603" x2="3758" y2="2603"/><line x1="3797" y1="2603" x2="3810" y2="2603"/>
<line x1="3745" y1="2692" x2="3758" y2="2692"/><line x1="3797" y1="2692" x2="3810" y2="2692"/>
</g>
<text class="ll" x="3831" y="2526">0.05</text>
<text class="ll" x="3831" y="2615">0.10</text>
<text class="ll" x="3831" y="2704">0.15</text>
</g>
</svg>
